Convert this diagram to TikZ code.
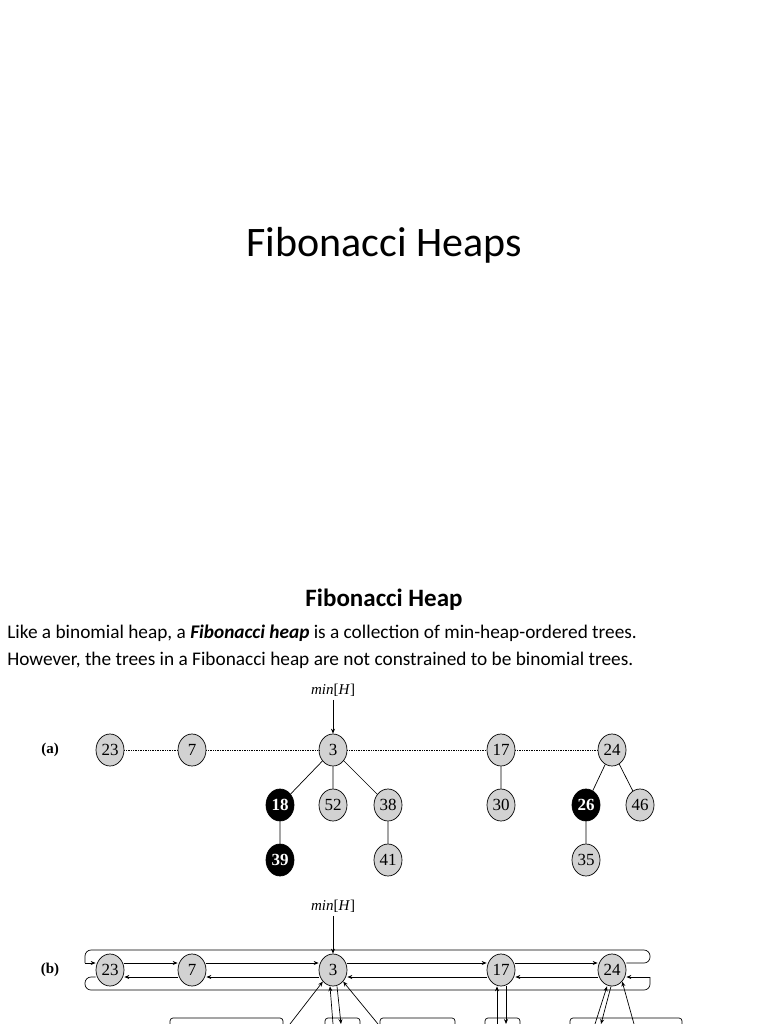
\documentclass[tikz,border=0pt]{standalone}
\usepackage{fontspec}
\setmainfont{Carlito}
\newfontfamily\tms{Liberation Serif}
\usetikzlibrary{arrows.meta,shapes.geometric}
\begin{document}
\begin{tikzpicture}[x=1pt,y=-1pt,line width=0.7pt,
  hn/.style={ellipse,draw,fill=gray!35,minimum width=28,minimum height=32,inner sep=0,font=\tms\fontsize{17}{17}\selectfont},
  bn/.style={hn,fill=black,text=white,font=\tms\bfseries\fontsize{17}{17}\selectfont},
  ar/.style={-{Stealth[length=5pt,width=4pt]},line width=0.7pt},
  lbl/.style={font=\tms\fontsize{15}{15}\selectfont}]
\useasboundingbox (0,0) rectangle (768,1024);
\node (t1) at (384,245) {\fontsize{42}{46}\selectfont Fibonacci Heaps};
\node (t2) at (384,600) {\fontsize{25}{28}\selectfont\bfseries Fibonacci Heap};
\node[anchor=west,inner sep=0] (l1) at (7,633) {\fontsize{19.3}{20}\selectfont Like a binomial heap, a \textbf{\textit{Fibonacci heap}} is a collection of min-heap-ordered trees.};
\node[anchor=west,inner sep=0] (l2) at (7,660) {\fontsize{19.3}{20}\selectfont However, the trees in a Fibonacci heap are not constrained to be binomial trees.};
% (a)
\node[lbl,font=\tms\bfseries\fontsize{15}{15}\selectfont] (la) at (50,750) {(a)};
\node[lbl] (ma) at (333,690) {\textit{min}[\textit{H}]};
\node[hn] (a23) at (110,750) {23};
\node[hn] (a7) at (192,750) {7};
\node[hn] (a3) at (333,750) {3};
\node[hn] (a17) at (501,750) {17};
\node[hn] (a24) at (612,750) {24};
\node[bn] (a18) at (280,805) {18};
\node[hn] (a52) at (333,805) {52};
\node[hn] (a38) at (388,805) {38};
\node[hn] (a30) at (501,805) {30};
\node[bn] (a26) at (586,805) {26};
\node[hn] (a46) at (640,805) {46};
\node[bn] (a39) at (280,860) {39};
\node[hn] (a41) at (388,860) {41};
\node[hn] (a35) at (586,860) {35};
\draw[ar] (ma.south) -- (a3.north);
\draw[densely dotted] (a23)--(a7) (a7)--(a3) (a3)--(a17) (a17)--(a24);
\draw (a3)--(a18) (a3)--(a52) (a3)--(a38) (a18)--(a39) (a38)--(a41)
      (a17)--(a30) (a24)--(a26) (a24)--(a46) (a26)--(a35);
% (b)
\node[lbl,font=\tms\bfseries\fontsize{15}{15}\selectfont] (lb) at (50,970) {(b)};
\node[lbl] (mb) at (333,906) {\textit{min}[\textit{H}]};
\node[hn] (b23) at (110,970) {23};
\node[hn] (b7) at (192,970) {7};
\node[hn] (b3) at (333,970) {3};
\node[hn] (b17) at (501,970) {17};
\node[hn] (b24) at (612,970) {24};
\draw[ar] (mb.south) -- (b3.north);
\foreach \a/\b in {b23/b7,b7/b3,b3/b17,b17/b24}{
  \draw[ar] ([yshift=7]\a.east) -- ([yshift=7]\b.west);
  \draw[ar] ([yshift=-7]\b.west) -- ([yshift=-7]\a.east);
}
\draw[rounded corners=6] ([yshift=7]b24.east) -- (650,963) -- (650,950) -- (85,950) -- (85,963);
\draw[ar] (85,963) -- ([yshift=7]b23.west);
\draw[rounded corners=6] ([yshift=-7]b23.west) -- (85,977) -- (85,990) -- (650,990) -- (650,977);
\draw[ar] (650,977) -- ([yshift=-7]b24.east);
% child boxes (cut at bottom)
\draw[rounded corners=3] (170,1030) -- (170,1018) -- (283,1018) -- (283,1030);
\draw[rounded corners=3] (325,1030) -- (325,1018) -- (360,1018) -- (360,1030);
\draw[rounded corners=3] (380,1030) -- (380,1018) -- (455,1018) -- (455,1030);
\draw[rounded corners=3] (485,1030) -- (485,1018) -- (520,1018) -- (520,1030);
\draw[rounded corners=3] (570,1030) -- (570,1018) -- (682,1018) -- (682,1030);
\coordinate (c1) at (290,1024); \coordinate (c2) at (333,1024); \coordinate (c3) at (341,1024);
\coordinate (c4) at (378,1024); \coordinate (c5) at (497,1024); \coordinate (c6) at (506,1024);
\coordinate (c7) at (595,1024); \coordinate (c8) at (601,1024); \coordinate (c9) at (634,1024);
\draw[ar] (c1) -- (b3.south west);
\draw[ar] (c2) -- ([xshift=-3]b3.south);
\draw[ar] ([xshift=4]b3.south) -- (c3);
\draw[ar] (c4) -- (b3.south east);
\draw[ar] (c5) -- ([xshift=-4]b17.south);
\draw[ar] ([xshift=5]b17.south) -- (c6);
\draw[ar] (c7) -- ([xshift=-5]b24.south);
\draw[ar] ([xshift=-1]b24.south) -- (c8);
\draw[ar] (c9) -- (b24.south east);
\end{tikzpicture}
\end{document}
